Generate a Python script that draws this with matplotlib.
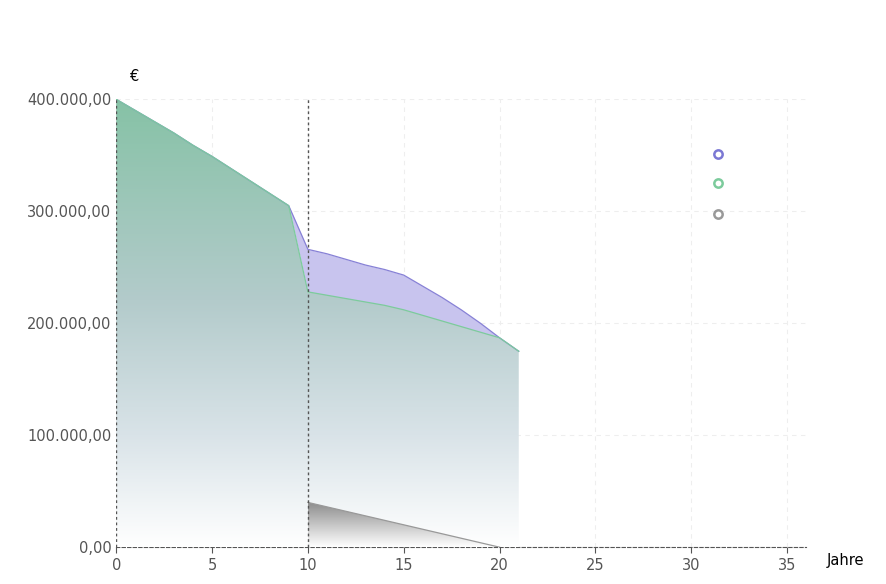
import matplotlib
matplotlib.use("Agg")
import matplotlib.pyplot as plt
import numpy as np
from matplotlib.path import Path
from matplotlib.patches import PathPatch
from matplotlib.ticker import FuncFormatter

years = list(range(0, 22))
green = [400000, 390000, 380000, 370000, 359000, 349000, 338000, 327000, 316000, 305000,
         228000, 225000, 222000, 219000, 216000, 212000, 207000, 202000, 197000, 192000, 187000, 175000]
purple = [400000, 390000, 380000, 370000, 359000, 349000, 338000, 327000, 316000, 305000,
          266000, 262000, 257000, 252000, 248000, 243000, 233000, 223000, 212000, 200000, 187000, 175000]
gray_years = list(range(10, 21))
gray = [40000, 36000, 32000, 28000, 24000, 20000, 16000, 12000, 8000, 4000, 0]

fig = plt.figure(figsize=(8.87, 5.84), dpi=100)
ax = fig.add_axes([0.131, 0.063, 0.778, 0.767])
ax.set_xlim(0, 36)
ax.set_ylim(0, 400000)

def grad_fill(xs, ys, stops, ytop, ybot, z):
    verts = [(xs[0], 0)] + list(zip(xs, ys)) + [(xs[-1], 0)]
    patch = PathPatch(Path(verts), facecolor="none", edgecolor="none")
    ax.add_patch(patch)
    n = 256
    t = np.linspace(0, 1, n)
    pos = [s[0] for s in stops]
    cols = np.array([matplotlib.colors.to_rgb(s[1]) for s in stops])
    img = np.stack([np.interp(t, pos, cols[:, k]) for k in range(3)], axis=1).reshape(n, 1, 3)
    im = ax.imshow(img, extent=[xs[0], xs[-1], ybot, ytop], aspect="auto", origin="upper", zorder=z)
    im.set_clip_path(patch)

ax.fill_between(years, green, purple, color="#c8c4ee", zorder=2, linewidth=0)
grad_fill(years, green, [(0, "#86c2a6"), (0.45, "#b3cbcb"), (0.75, "#d9e3e8"), (1, "#ffffff")], 400000, 0, 3)
ax.plot(years, purple, color="#8781d6", lw=0.9, zorder=4)
ax.plot(years, green, color="#7ccb9c", lw=0.9, zorder=4)
grad_fill(gray_years, gray, [(0, "#8c8c8c"), (1, "#ffffff")], 40000, 0, 3)
ax.plot(gray_years, gray, color="#999999", lw=0.9, zorder=4)

ax.axvline(0, color="#555555", ls=(0, (2, 2)), lw=1, zorder=5)
ax.axvline(10, color="#555555", ls=(0, (2, 2)), lw=1, zorder=5)

ax.set_xticks(range(0, 36, 5))
ax.set_yticks(range(0, 400001, 100000))
ax.yaxis.set_major_formatter(FuncFormatter(lambda v, p: f"{v:,.2f}".replace(",", "X").replace(".", ",").replace("X", ".")))
ax.grid(True, color="#eeeeee", ls=(0, (4, 4)), lw=0.8)
ax.set_axisbelow(True)
for s in ["top", "right", "left"]:
    ax.spines[s].set_visible(False)
ax.spines["bottom"].set_linestyle((0, (3, 2)))
ax.spines["bottom"].set_color("#555555")
ax.tick_params(colors="#555555", labelsize=10.5, length=4)
ax.tick_params(axis="y", length=0)
ax.text(0.02, 1.04, "€", transform=ax.transAxes, fontsize=10.5)
ax.text(1.03, -0.04, "Jahre", transform=ax.transAxes, fontsize=10.5)

for yy, c in [(351000, "#7b78d4"), (325000, "#7ccb9c"), (298000, "#999999")]:
    ax.plot([31.4], [yy], marker="o", ms=6, mfc="white", mec=c, mew=1.8, zorder=6)

fig.savefig("out.png", dpi=100)
